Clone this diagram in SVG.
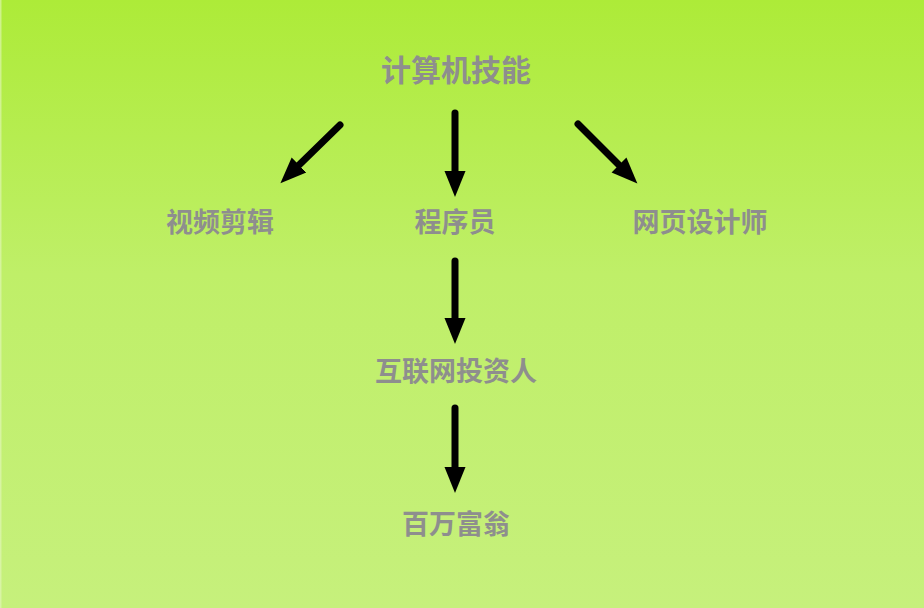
<svg xmlns="http://www.w3.org/2000/svg" width="924" height="608" viewBox="0 0 924 608">
<defs>
<linearGradient id="bg" x1="0" y1="0" x2="0" y2="1">
<stop offset="0" stop-color="#adeb38"/>
<stop offset="0.45" stop-color="#bfef68"/>
<stop offset="1" stop-color="#c6f07c"/>
</linearGradient>
<marker id="ah" markerUnits="userSpaceOnUse" markerWidth="27" markerHeight="24" refX="0" refY="12" orient="auto">
<path d="M0,1.5 L26,12 L0,22.5 Z" fill="#000"/>
</marker>
<style>
.t{font-family:"Noto Sans CJK SC","Noto Sans",sans-serif;font-weight:bold;fill:#8e8e8e;text-anchor:middle;font-size:27px}
.c{stroke:#000;stroke-width:7;stroke-linecap:round;fill:none;marker-end:url(#ah)}
</style>
</defs>
<rect width="924" height="608" fill="url(#bg)"/>
<rect x="0" y="0" width="1.5" height="608" fill="#e4f7c0" opacity="0.6"/>
<g id="connectors">
<line class="c" x1="340" y1="125" x2="299" y2="165"/>
<line class="c" x1="455" y1="113" x2="455" y2="171"/>
<line class="c" x1="578" y1="124" x2="619" y2="165"/>
<line class="c" x1="455" y1="261" x2="455" y2="318"/>
<line class="c" x1="455" y1="408" x2="455" y2="467"/>
</g>
<g id="n-root"><text class="t" x="456" y="81" style="font-size:30px">计算机技能</text></g>
<g id="n-video"><text class="t" x="220" y="232">视频剪辑</text></g>
<g id="n-prog"><text class="t" x="455" y="232">程序员</text></g>
<g id="n-web"><text class="t" x="700" y="232">网页设计师</text></g>
<g id="n-invest"><text class="t" x="456" y="381">互联网投资人</text></g>
<g id="n-rich"><text class="t" x="456" y="534">百万富翁</text></g>
</svg>
